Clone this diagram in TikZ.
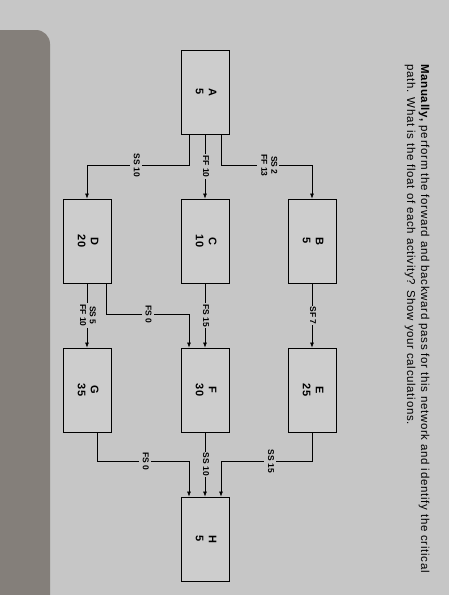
\documentclass[tikz,border=0pt]{standalone}
\usepackage{fontspec}
\setmainfont{Liberation Sans}
\newfontfamily\taskfont[LetterSpace=6]{Liberation Sans}
\usetikzlibrary{arrows.meta, positioning}
\usepackage{xcolor}

\definecolor{paper}{RGB}{198,198,198}
\definecolor{boxfill}{RGB}{205,205,205}
\definecolor{shadowc}{RGB}{132,127,122}

% text of the photographed page runs downwards
\newcommand{\rot}[1]{\rotatebox{-90}{\begin{tabular}{@{}c@{}}#1\end{tabular}}}

\begin{document}
\begin{tikzpicture}[
    x=1pt, y=1pt,
    act/.style={draw, line width=1pt, fill=boxfill, minimum width=48pt, minimum height=84pt,
                inner sep=0pt, font=\fontsize{11}{13}\selectfont\bfseries},
    arr/.style={-{Latex[length=5pt, width=4pt]}, line width=0.6pt},
    lbl/.style={fill=paper, inner sep=1pt, font=\fontsize{8.5}{10}\selectfont\bfseries}
  ]
  \fill[paper] (0,0) rectangle (449,-595);
  \useasboundingbox (0,0) rectangle (449,-595);
  \fill[shadowc] (0,-595) -- (0,-30) -- (36,-30) arc[start angle=90, end angle=0, radius=14] -- (50,-595) -- cycle;

  \node[anchor=north east, inner sep=0pt, font=\taskfont\fontsize{11.5}{14}\selectfont] (task) at (431,-64)
    {\rotatebox{-90}{\begin{tabular}{@{}l@{}}\textbf{Manually,} perform the forward and backward pass for this network and identify the critical\\
     path. What is the float of each activity? Show your calculations.\end{tabular}}};

  \node[act] (A) at (205,-92) {\rot{A\\5}};
  \node[act, below=64pt of A] (C) {\rot{C\\10}};
  \node[act, right=58pt of C] (B) {\rot{B\\5}};
  \node[act, left=69pt of C]  (D) {\rot{D\\20}};
  \node[act, below=64pt of B] (E) {\rot{E\\25}};
  \node[act, below=64pt of C] (F) {\rot{F\\30}};
  \node[act, below=64pt of D] (G) {\rot{G\\35}};
  \node[act, below=64pt of F] (H) {\rot{H\\5}};

  \draw[arr] ([xshift=16pt]A.south) -- ++(0,-31pt) -| node[lbl, pos=0.26] {\rot{SS 2\\FF 13}} (B.north);
  \draw[arr] (A) -- node[lbl] {\rot{FF 10}} (C);
  \draw[arr] ([xshift=-16pt]A.south) -- ++(0,-31pt) -| node[lbl, pos=0.26] {\rot{SS 10}} (D.north);

  \draw[arr] (B) -- node[lbl] {\rot{SF 7}} (E);
  \draw[arr] (C) -- node[lbl] {\rot{FS 15}} (F);
  \draw[arr] ([xshift=19pt]D.south) -- ++(0,-31pt) -| node[lbl, pos=0.25] {\rot{FS 0}} ([xshift=-16pt]F.north);
  \draw[arr] (D) -- node[lbl] {\rot{SS 5\\FF 10}} (G);

  \draw[arr] (E.south) -- ++(0,-29pt) -| node[lbl, pos=0.23] {\rot{SS 15}} ([xshift=16pt]H.north);
  \draw[arr] (F) -- node[lbl] {\rot{SS 10}} (H);
  \draw[arr] ([xshift=10pt]G.south) -- ++(0,-29pt) -| node[lbl, pos=0.26] {\rot{FS 0}} ([xshift=-16pt]H.north);
\end{tikzpicture}
\end{document}
